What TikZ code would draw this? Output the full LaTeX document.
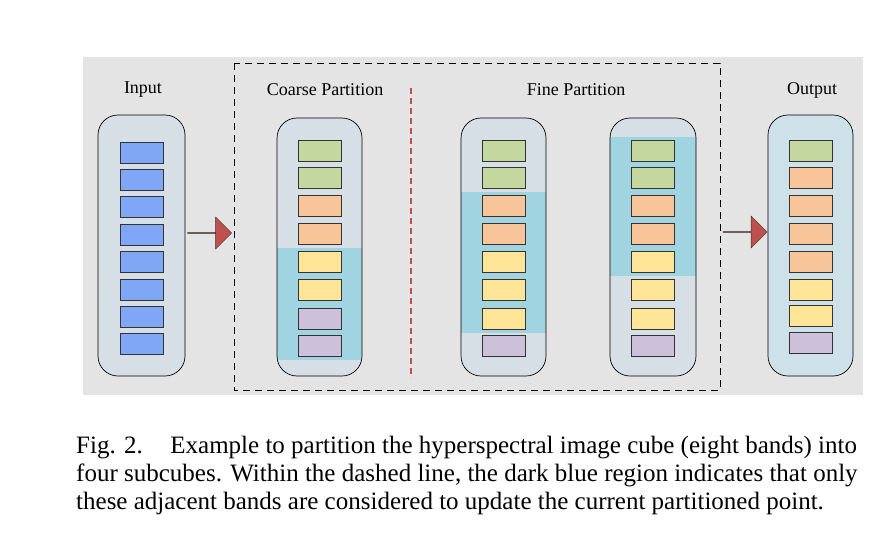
\documentclass[tikz,border=0pt]{standalone}
\usepackage{fontspec}
\setmainfont{Liberation Serif}
\usetikzlibrary{shapes.arrows}
\definecolor{bg}{HTML}{E4E4E4}
\definecolor{col}{HTML}{D6DFE6}
\definecolor{colo}{HTML}{CFE1E8}
\definecolor{teal}{HTML}{A0D4E0}
\definecolor{bl}{HTML}{7FA7F5}
\definecolor{gr}{HTML}{C4D79F}
\definecolor{og}{HTML}{F8C49A}
\definecolor{ye}{HTML}{FFE597}
\definecolor{pu}{HTML}{CDC0DA}
\definecolor{ar}{HTML}{C0504D}
\begin{document}
\begin{tikzpicture}[x=1pt,y=-1pt,
 column/.style={draw=black,line width=0.7pt,rounded corners=20pt},
 band/.style={draw=black!80,line width=0.7pt,minimum width=43pt,minimum height=21pt,inner sep=0pt},
 lab/.style={font=\fontsize{18}{21}\selectfont},
 blk/.style={single arrow,draw=black!80,fill=ar,minimum height=44pt,minimum width=32pt,single arrow head extend=9pt,single arrow head indent=0pt,inner sep=0pt}]
\useasboundingbox (0,0) rectangle (885,533);
\fill[bg] (83,57) rectangle (863,395);
\draw[dashed,line width=1pt,dash pattern=on 7pt off 5pt] (234,63) rectangle (720,390);
\draw[ar,line width=1.3pt,dash pattern=on 6pt off 4pt] (411,88) -- (411,378);
% columns
\draw[column,fill=col] (98,115) rectangle (185,376);
\begin{scope}
\clip[rounded corners=20pt] (277,118) rectangle (362,376);
\fill[col] (277,118) rectangle (362,376);
\fill[teal] (277,248) rectangle (362,360);
\end{scope}
\draw[column] (277,118) rectangle (362,376);
\begin{scope}
\clip[rounded corners=20pt] (461,118) rectangle (546,376);
\fill[col] (461,118) rectangle (546,376);
\fill[teal] (461,192) rectangle (546,333);
\end{scope}
\draw[column] (461,118) rectangle (546,376);
\begin{scope}
\clip[rounded corners=20pt] (610,118) rectangle (696,376);
\fill[col] (610,118) rectangle (696,376);
\fill[teal] (610,137) rectangle (696,276);
\end{scope}
\draw[column] (610,118) rectangle (696,376);
\draw[column,fill=colo] (768,115) rectangle (853,376);
% bands
\foreach \y [count=\i] in {153,180,207,235,262,290,317,344}
  \node[band,fill=bl] (in\i) at (141.5,\y) {};
\foreach \y/\f [count=\i] in {151/gr,178/gr,206/og,234/og,262/ye,290/ye,319/pu,346/pu}
  \node[band,fill=\f] (a\i) at (319.5,\y) {};
\foreach \c/\xx in {b/503.5,c/652.5}{
 \foreach \y/\f [count=\i] in {151/gr,178/gr,206/og,234/og,262/ye,290/ye,319/ye,346/pu}
  \node[band,fill=\f] (\c\i) at (\xx,\y) {};
}
\foreach \y/\f [count=\i] in {151/gr,178/og,206/og,234/og,262/og,290/ye,316/ye,343/pu}
  \node[band,fill=\f] (o\i) at (810.5,\y) {};
% labels
\node[lab] (l1) at (143,90) {Input};
\node[lab] (l2) at (325,90) {Coarse Partition};
\node[lab] (l3) at (576,90) {Fine Partition};
\node[lab] (l4) at (812,90) {Output};
% arrows
\node[blk] (ar1) at (209.5,233) {};
\node[blk] (ar2) at (745,232) {};
% caption
\node[anchor=west,font=\fontsize{25}{28}\selectfont,align=left,inner sep=0pt] (cap) at (76,475)
 {Fig. 2.\hspace{1.1em}Example to partition the hyperspectral image cube (eight bands) into\\
 four subcubes. Within the dashed line, the dark blue region indicates that only\\
 these adjacent bands are considered to update the current partitioned point.};
\end{tikzpicture}
\end{document}
